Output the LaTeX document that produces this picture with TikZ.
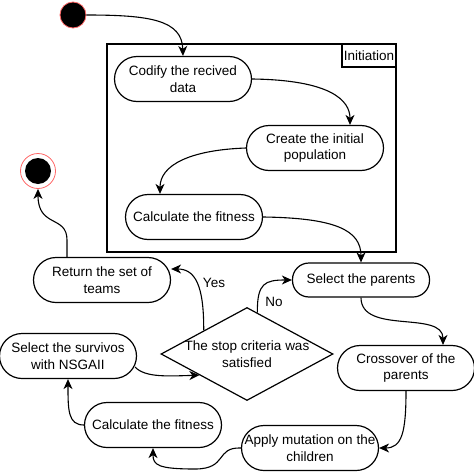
\documentclass[tikz,border=0pt]{standalone}
\usepackage{fontspec}
\setmainfont{Liberation Sans}
\usetikzlibrary{shapes.geometric,arrows.meta,calc}
\begin{document}
\begin{tikzpicture}[x=1pt,y=-1pt,
  every node/.style={font=\fontsize{13.5}{16.5}\selectfont},
  act/.style={draw,line width=1.2pt,rectangle,rounded corners=22.5pt,minimum width=137pt,minimum height=45pt,align=center,inner sep=0pt},
  conn/.style={line width=1.1pt,-{Stealth[length=10pt,width=9pt,inset=3pt]}},
  lbl/.style={inner sep=0pt}]
\useasboundingbox (0,0) rectangle (474,474);
% frame
\draw[line width=1.2pt] (107,44) rectangle (396,252);
\node[draw,line width=1.1pt,minimum width=54pt,minimum height=23pt,inner sep=0pt] (initlbl) at (369,55.5) {Initiation};
% start and end
\node[circle,fill=black,draw=red!60,line width=0.8pt,minimum size=26pt,inner sep=0pt] (start) at (73,15) {};
\node[circle,draw=red!60,line width=0.8pt,minimum size=35pt,inner sep=0pt] (final) at (38,171) {};
\node[circle,fill=black,minimum size=26pt,inner sep=0pt] (finalin) at (38,171) {};
% activities
\node[act] (codify) at (183,79) {Codify the recived\\data};
\node[act] (create) at (315,148) {Create the initial\\population};
\node[act] (calc1) at (194,217) {Calculate the fitness};
\node[act] (ret) at (102,280) {Return the set of\\teams};
\node[act,minimum height=34pt,rounded corners=16.5pt] (sel) at (361,280) {Select the parents};
\node[act] (surv) at (68,356) {Select the survivos\\with NSGAII};
\node[act] (cross) at (406,368) {Crossover of the\\parents};
\node[act] (calc2) at (153,425) {Calculate the fitness};
\node[act] (apply) at (310,448) {Apply mutation on the\\children};
% decision
\node[diamond,draw,line width=1.2pt,minimum width=172pt,minimum height=93pt,inner sep=0pt] (dec) at (247,354) {};
\node[align=center,inner sep=0pt] (dectext) at (247,354) {The stop criteria was\\satisfied};
% connectors
\draw[conn] (start.east) .. controls (150,15) and (182,20) .. (codify.north);
\draw[conn] (codify.east) .. controls (330,80) and (350,100) .. ($(create.north)+(35,0)$);
\draw[conn] (create.west) .. controls (190,150) and (160,165) .. ($(calc1.north)+(-34,0)$);
\draw[conn] (calc1.east) .. controls (335,218) and (361,230) .. (sel.north);
\draw[conn] (sel.south) .. controls (361,335) and (443,310) .. ($(cross.north)+(37,0)$);
\draw[conn] (cross.south) .. controls (406,432) and (402,448) .. (apply.east);
\draw[conn] (apply.west) .. controls (215,447) and (228,469) .. (195,469) .. controls (158,469) and (153,465) .. (calc2.south);
\draw[conn] (calc2.west) .. controls (68,425) and (68,410) .. (surv.south);
\draw[conn] ($(surv.east)+(-2,11)$) .. controls (145,378) and (170,376) .. ($(dec.west)!0.45!(dec.south)$);
\draw[conn] ($(dec.west)!0.5!(dec.north)$) .. controls (204,285) and (195,269) .. ($(ret.east)+(0,-11)$);
\draw[conn] ($(dec.north)!0.12!(dec.east)$) .. controls (257,283) and (265,280) .. (sel.west);
\draw[conn] ($(ret.north)+(-35,0)$) -- (67,240) .. controls (67,215) and (38,228) .. (final.south);
% labels
\node[lbl] (yes) at (214,283) {Yes};
\node[lbl] (no) at (274,302) {No};
\end{tikzpicture}
\end{document}
